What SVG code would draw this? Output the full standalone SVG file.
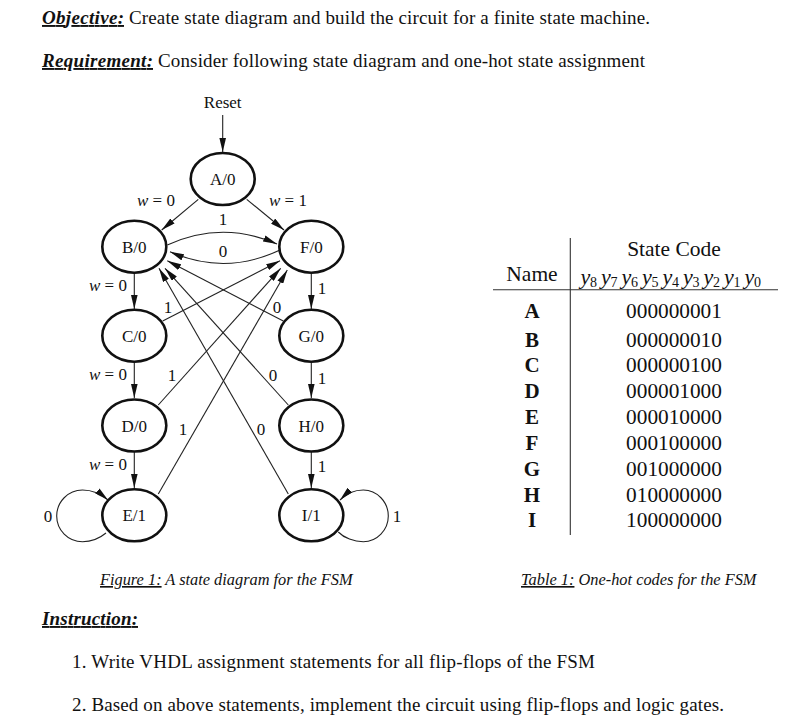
<svg xmlns="http://www.w3.org/2000/svg" width="810" height="727" viewBox="0 0 810 727">
<style>
text{font-family:"Liberation Serif","Times New Roman",serif;fill:#111}
.h{font-size:19px;font-weight:bold;font-style:italic;text-decoration:underline;text-decoration-thickness:2px}
.b{font-size:19px}
.s{font-size:17px;text-anchor:middle}
.l{font-size:17px}
.i{font-style:italic}
.st ellipse{fill:#fff;stroke:#111;stroke-width:2.6}
.c{fill:none;stroke:#222;stroke-width:1.1;marker-end:url(#a)}
.n{font-size:21.3px;text-anchor:middle}
.nb{font-size:21px;text-anchor:middle;font-weight:bold}
.cap{font-size:16.35px;font-style:italic}
.u{text-decoration:underline}
.t{font-size:21.5px;text-anchor:middle}
.y{font-size:22px;font-style:italic}
.y .v{font-size:14px;font-style:normal}
</style>
<defs>
<marker id="a" viewBox="0 0 14 6.6" refX="14" refY="3.3" markerUnits="userSpaceOnUse" markerWidth="14" markerHeight="6.6" orient="auto"><path d="M0 0L14 3.3L0 6.6Z" fill="#111"/></marker>
</defs>
<rect width="810" height="727" fill="#fff"/>
<text x="42" y="24" class="h" textLength="82">Objective:</text>
<text x="129" y="24" class="b" textLength="521">Create state diagram and build the circuit for a finite state machine.</text>
<text x="42" y="67" class="h" textLength="111">Requirement:</text>
<text x="158" y="67" class="b" textLength="487">Consider following state diagram and one-hot state assignment</text>

<g id="connectors">
<path class="c" d="M222.7 115V152"/>
<path class="c" d="M198.3 199.3L161.7 230"/>
<path class="c" d="M246.7 199.3L284 230"/>
<path class="c" d="M167.3 245Q222 220 277 244"/>
<path class="c" d="M280 250Q225 276 170 251.7"/>
<path class="c" d="M134.3 273V309"/>
<path class="c" d="M134.3 362V398"/>
<path class="c" d="M134.3 452V488"/>
<path class="c" d="M311.3 273V309"/>
<path class="c" d="M311.3 362V398"/>
<path class="c" d="M311.3 452V488"/>
<path class="c" d="M162.7 321L280 260.7"/>
<path class="c" d="M283.3 321L167.3 260.7"/>
<path class="c" d="M158.3 405L280.7 268.3"/>
<path class="c" d="M288.3 405L165 268.3"/>
<path class="c" d="M158.3 494L287.3 270"/>
<path class="c" d="M288.3 494L159 268.3"/>
<path class="c" d="M106 533C100 538 92 541.7 82.5 541.7C68 541.7 56.7 530 56.7 516C56.7 502 68 490 82.5 490C92 490 101 494 108 500"/>
<path class="c" d="M338.3 532C344 538 354 541.7 363.3 541.7C377 541.7 388.3 530 388.3 516C388.3 502 377 490 363.3 490C354 490 346 494 340 500"/>
</g>

<g id="state-a" class="st"><ellipse cx="222.7" cy="179" rx="32" ry="26"/><text x="222.7" y="185" class="s">A/0</text></g>
<g id="state-b" class="st"><ellipse cx="134.3" cy="246.7" rx="32" ry="26"/><text x="134.3" y="252.5" class="s">B/0</text></g>
<g id="state-c" class="st"><ellipse cx="134.3" cy="335.7" rx="32" ry="26"/><text x="134.3" y="341.5" class="s">C/0</text></g>
<g id="state-d" class="st"><ellipse cx="134.3" cy="425.5" rx="32" ry="26"/><text x="134.3" y="431.5" class="s">D/0</text></g>
<g id="state-e" class="st"><ellipse cx="134.3" cy="515.3" rx="32" ry="26"/><text x="134.3" y="521" class="s">E/1</text></g>
<g id="state-f" class="st"><ellipse cx="311.3" cy="246.7" rx="32" ry="26"/><text x="311.3" y="252.5" class="s">F/0</text></g>
<g id="state-g" class="st"><ellipse cx="311.3" cy="335.7" rx="32" ry="26"/><text x="311.3" y="341.5" class="s">G/0</text></g>
<g id="state-h" class="st"><ellipse cx="311.3" cy="425.5" rx="32" ry="26"/><text x="311.3" y="431.5" class="s">H/0</text></g>
<g id="state-i" class="st"><ellipse cx="311.3" cy="515.3" rx="32" ry="26"/><text x="311.3" y="521" class="s">I/1</text></g>

<g id="labels">
<text x="222.7" y="108" class="s">Reset</text>
<text x="137" y="206" class="l"><tspan class="i">w</tspan> = 0</text>
<text x="269" y="206" class="l"><tspan class="i">w</tspan> = 1</text>
<text x="89" y="291" class="l"><tspan class="i">w</tspan> = 0</text>
<text x="89" y="380" class="l"><tspan class="i">w</tspan> = 0</text>
<text x="89" y="470" class="l"><tspan class="i">w</tspan> = 0</text>
<text x="223" y="225" class="s">1</text>
<text x="223" y="257" class="s">0</text>
<text x="168" y="313" class="s">1</text>
<text x="277" y="313" class="s">0</text>
<text x="322" y="294" class="s">1</text>
<text x="172" y="381" class="s">1</text>
<text x="273" y="381" class="s">0</text>
<text x="322" y="384" class="s">1</text>
<text x="183" y="435" class="s">1</text>
<text x="261" y="435" class="s">0</text>
<text x="322" y="472" class="s">1</text>
<text x="48" y="522" class="s">0</text>
<text x="397" y="522" class="s">1</text>
</g>

<g id="table">
<path d="M570.3 238V535M493 289.7H778" stroke="#333" stroke-width="1.1" fill="none"/>
<text x="674" y="256" class="t">State Code</text>
<text x="532" y="281" class="t">Name</text>
<text y="284" class="y"><tspan x="580.5">y</tspan><tspan class="v" x="590" dy="3">8</tspan><tspan x="601" dy="-3">y</tspan><tspan class="v" x="610.5" dy="3">7</tspan><tspan x="621.5" dy="-3">y</tspan><tspan class="v" x="631" dy="3">6</tspan><tspan x="642" dy="-3">y</tspan><tspan class="v" x="651.5" dy="3">5</tspan><tspan x="662.5" dy="-3">y</tspan><tspan class="v" x="672" dy="3">4</tspan><tspan x="683" dy="-3">y</tspan><tspan class="v" x="692.5" dy="3">3</tspan><tspan x="703.5" dy="-3">y</tspan><tspan class="v" x="713" dy="3">2</tspan><tspan x="724" dy="-3">y</tspan><tspan class="v" x="733.5" dy="3">1</tspan><tspan x="744.5" dy="-3">y</tspan><tspan class="v" x="754" dy="3">0</tspan></text>
<text x="532" y="318" class="nb">A</text><text x="674" y="318" class="n">000000001</text>
<text x="532" y="347" class="nb">B</text><text x="674" y="347" class="n">000000010</text>
<text x="532" y="372" class="nb">C</text><text x="674" y="372" class="n">000000100</text>
<text x="532" y="398" class="nb">D</text><text x="674" y="398" class="n">000001000</text>
<text x="532" y="424" class="nb">E</text><text x="674" y="424" class="n">000010000</text>
<text x="532" y="450" class="nb">F</text><text x="674" y="450" class="n">000100000</text>
<text x="532" y="476" class="nb">G</text><text x="674" y="476" class="n">001000000</text>
<text x="532" y="502" class="nb">H</text><text x="674" y="502" class="n">010000000</text>
<text x="532" y="527" class="nb">I</text><text x="674" y="527" class="n">100000000</text>
</g>

<text x="100" y="585" class="cap"><tspan class="u">Figure 1:</tspan> A state diagram for the FSM</text>
<text x="521" y="585" class="cap"><tspan class="u">Table 1:</tspan> One-hot codes for the FSM</text>
<text x="42" y="625" class="h" textLength="96">Instruction:</text>
<text x="72" y="668" class="b" textLength="523">1. Write VHDL assignment statements for all flip-flops of the FSM</text>
<text x="72" y="711" class="b" textLength="652">2. Based on above statements, implement the circuit using flip-flops and logic gates.</text>
</svg>
